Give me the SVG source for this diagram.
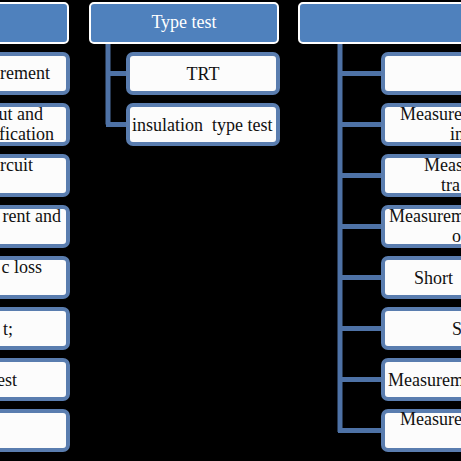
<svg xmlns="http://www.w3.org/2000/svg" width="461" height="461" viewBox="0 0 461 461">
<style>
.hd{fill:#4F81BD;stroke:#FFFFFF;stroke-width:2}
.bx{fill:#FCFCFC;stroke:#5A7DAF;stroke-width:4}
.cn{stroke:#4E72A6;stroke-width:5;fill:none}
.t{font-family:"Liberation Serif","Times New Roman",serif;font-size:18px;fill:#111111}
.th{font-family:"Liberation Serif","Times New Roman",serif;font-size:18px;fill:#FFFFFF}
.e{text-anchor:end}
.m{text-anchor:middle}
</style>
<rect x="0" y="0" width="461" height="461" fill="#000000"/>
<g id="connectors">
<path class="cn" d="M108,43 V124.5 M106,73.5 H128 M106,124.5 H128"/>
<path class="cn" d="M340,43 V432 M338,73.5 H383 M338,124.5 H383 M338,175.5 H383 M338,226.5 H383 M338,277.5 H383 M338,328.5 H383 M338,379.5 H383 M338,430.5 H383"/>
</g>
<g id="h1"><rect class="hd" x="-120" y="3" width="188" height="40" rx="4"/></g>
<g id="h2"><rect class="hd" x="90" y="3" width="188" height="40" rx="4"/><text class="th m" x="184" y="28">Type test</text></g>
<g id="h3"><rect class="hd" x="299" y="3" width="200" height="40" rx="4"/></g>
<g id="l1"><rect class="bx" x="-100" y="54" width="168" height="39" rx="5"/><text class="t e" x="50" y="79">rement</text></g>
<g id="l2"><rect class="bx" x="-100" y="105" width="168" height="39" rx="5"/><text class="t e" x="43" y="120">ut and</text><text class="t e" x="54" y="140">fication</text></g>
<g id="l3"><rect class="bx" x="-100" y="156" width="168" height="39" rx="5"/><text class="t e" x="33" y="171">rcuit</text></g>
<g id="l4"><rect class="bx" x="-100" y="207" width="168" height="39" rx="5"/><text class="t e" x="61" y="222">rent and</text></g>
<g id="l5"><rect class="bx" x="-100" y="258" width="168" height="39" rx="5"/><text class="t e" x="42" y="273">c loss</text></g>
<g id="l6"><rect class="bx" x="-100" y="309" width="168" height="39" rx="5"/><text class="t" x="3" y="335">t;</text></g>
<g id="l7"><rect class="bx" x="-100" y="360" width="168" height="39" rx="5"/><text class="t e" x="17" y="386">est</text></g>
<g id="l8"><rect class="bx" x="-100" y="411" width="168" height="39" rx="5"/></g>
<g id="m1"><rect class="bx" x="128" y="54" width="150" height="39" rx="5"/><text class="t m" x="203" y="80">TRT</text></g>
<g id="m2"><rect class="bx" x="128" y="105" width="150" height="39" rx="5"/><text class="t" x="132" y="131" xml:space="preserve">insulation  type test</text></g>
<g id="r1"><rect class="bx" x="383" y="54" width="120" height="39" rx="5"/></g>
<g id="r2"><rect class="bx" x="383" y="105" width="120" height="39" rx="5"/><text class="t" x="400" y="120">Measure</text><text class="t" x="450" y="140">in</text></g>
<g id="r3"><rect class="bx" x="383" y="156" width="120" height="39" rx="5"/><text class="t" x="424" y="171">Meas</text><text class="t" x="441" y="191">tra</text></g>
<g id="r4"><rect class="bx" x="383" y="207" width="120" height="39" rx="5"/><text class="t" x="389" y="222">Measurem</text><text class="t" x="452" y="242">o</text></g>
<g id="r5"><rect class="bx" x="383" y="258" width="120" height="39" rx="5"/><text class="t" x="414" y="284">Short</text></g>
<g id="r6"><rect class="bx" x="383" y="309" width="120" height="39" rx="5"/><text class="t" x="452" y="335">S</text></g>
<g id="r7"><rect class="bx" x="383" y="360" width="120" height="39" rx="5"/><text class="t" x="388" y="386">Measurem</text></g>
<g id="r8"><rect class="bx" x="383" y="411" width="120" height="39" rx="5"/><text class="t" x="400" y="425">Measure</text></g>
</svg>
